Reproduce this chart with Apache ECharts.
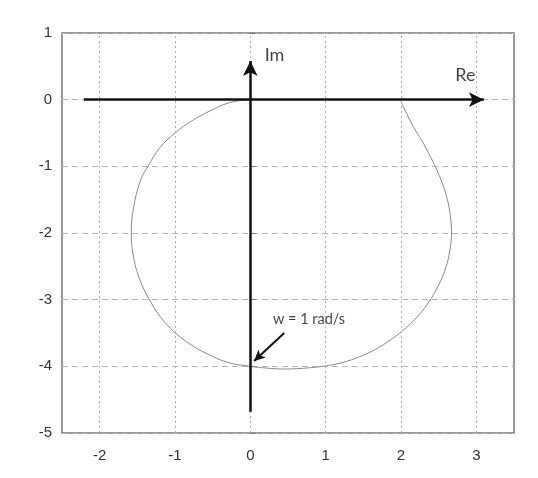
<!DOCTYPE html>
<html>
<head>
<meta charset="utf-8">
<script src="https://cdn.jsdelivr.net/npm/echarts@6/dist/echarts.min.js"></script>
<style>
  html, body { margin: 0; padding: 0; background: #fff; }
  #chart { width: 538px; height: 478px; }
</style>
</head>
<body>
<div id="chart"></div>
<script>
// Nyquist curve (Re, Im)
var curvePoints = [
  [2.0, -0.03], [2.08, -0.22], [2.17, -0.42], [2.27, -0.6], [2.36, -0.79],
  [2.45, -0.99], [2.53, -1.2], [2.6, -1.43], [2.65, -1.7], [2.67, -2.0],
  [2.65, -2.25], [2.6, -2.5], [2.5, -2.78], [2.36, -3.05], [2.18, -3.3],
  [1.96, -3.52], [1.7, -3.72], [1.42, -3.87], [1.12, -3.97], [0.8, -4.02],
  [0.45, -4.04], [0.15, -4.02], [0, -4.0], [-0.27, -3.95], [-0.56, -3.82],
  [-0.86, -3.62], [-1.12, -3.36], [-1.32, -3.04], [-1.48, -2.66], [-1.56, -2.3],
  [-1.58, -2.0], [-1.55, -1.62], [-1.46, -1.22], [-1.36, -1.0], [-1.2, -0.72],
  [-1.0, -0.5], [-0.78, -0.32], [-0.52, -0.16], [-0.26, -0.04], [0, 0]
];
// grid lines (x positions of vertical dotted lines)
var gridX = [-2, -1, 0, 1, 2, 3];
// axis arrows
var reArrow = [[-2.21, 0], [3.1, 0]];
var imArrow = [[0, -4.68], [0, 0.58]];
var noteArrow = [[0.45, -3.5], [0.05, -3.92]];
// text labels
var textLabels = [
  { name: 'Im', value: [0.19, 0.66] },
  { name: 'Re', value: [2.72, 0.37] },
  { name: 'w = 1 rad/s', value: [0.3, -3.3] }
];

var chart = echarts.init(document.getElementById('chart'));

var option = {
  backgroundColor: '#fff',
  animation: false,
  grid: {
    left: 62, right: 24, top: 33, bottom: 45,
    show: true,
    borderColor: '#777',
    borderWidth: 1.5,
    backgroundColor: '#fff'
  },
  xAxis: {
    type: 'value',
    min: -2.5,
    max: 3.5,
    interval: 0.5,
    axisLine: { show: false },
    axisTick: { show: false },
    splitLine: { show: false },
    axisLabel: {
      margin: 15,
      fontSize: 15,
      color: '#333',
      fontFamily: 'Liberation Sans',
      formatter: function (v) {
        return Math.abs(v - Math.round(v)) < 1e-6 ? String(Math.round(v)) : '';
      }
    }
  },
  yAxis: {
    type: 'value',
    min: -5,
    max: 1,
    interval: 1,
    axisLine: { show: false },
    axisTick: { show: true, inside: true, length: 5, lineStyle: { color: '#777' } },
    splitLine: { show: true, lineStyle: { color: '#b5b5b5', type: [6, 4], width: 1 } },
    axisLabel: {
      margin: 10,
      fontSize: 15,
      color: '#333',
      fontFamily: 'Liberation Sans'
    }
  },
  series: [
    {
      type: 'line',
      data: [],
      silent: true,
      markLine: {
        silent: true,
        symbol: 'none',
        label: { show: false },
        lineStyle: { color: '#b0b0b0', type: [2, 3], width: 1 },
        data: gridX.map(function (x) { return { xAxis: x }; })
      }
    },
    {
      type: 'line',
      data: curvePoints,
      smooth: 0.4,
      showSymbol: false,
      lineStyle: { color: '#8a8a8a', width: 1 },
      z: 3
    },
    {
      type: 'line',
      data: [],
      z: 4,
      markLine: {
        silent: true,
        symbol: ['none', 'arrow'],
        symbolSize: [11, 15],
        label: { show: false },
        lineStyle: { color: '#111', type: 'solid', width: 2.5 },
        data: [
          [{ coord: reArrow[0] }, { coord: reArrow[1] }],
          [{ coord: imArrow[0] }, { coord: imArrow[1] }]
        ]
      }
    },
    {
      type: 'line',
      data: [],
      z: 4,
      markLine: {
        silent: true,
        symbol: ['none', 'arrow'],
        symbolSize: [8, 11],
        label: { show: false },
        lineStyle: { color: '#111', type: 'solid', width: 2 },
        data: [
          [{ coord: noteArrow[0] }, { coord: noteArrow[1] }]
        ]
      }
    },
    {
      type: 'scatter',
      data: textLabels,
      symbolSize: 0,
      z: 5,
      label: {
        show: true,
        position: 'right',
        distance: 0,
        formatter: '{b}',
        color: '#111',
        fontFamily: 'Lato',
        fontSize: 18
      },
      labelLayout: { hideOverlap: false }
    }
  ]
};

// smaller font for the annotation
option.series[4].data[2].label = { fontSize: 14.5 };

chart.setOption(option, true);
</script>
</body>
</html>
